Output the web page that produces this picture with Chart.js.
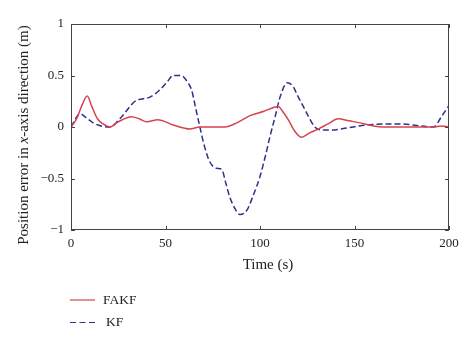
<!DOCTYPE html>
<html>
<head>
<meta charset="utf-8">
<script src="https://cdn.jsdelivr.net/npm/chart.js@4"></script>
<style>
    html, body { margin: 0; padding: 0; background: #fff; }
    #wrap { width: 474px; height: 346px; }
</style>
</head>
<body>
<div id="wrap"><canvas id="myChart" width="474" height="346"></canvas></div>
<script>
// time (s) and position error (m) for each filter
var timeFAKF = [0, 3, 6, 8.6, 11, 14, 17, 20.6, 25, 32, 36, 40, 46, 54, 63, 68, 81.5, 87.7, 94.7, 101.7, 109.7, 112, 115, 118, 122, 126, 130.8, 136, 141.4, 147, 153, 160, 165, 191.6, 196, 200];
var errFAKF  = [0, 0.08, 0.22, 0.30, 0.20, 0.08, 0.03, 0, 0.05, 0.10, 0.08, 0.05, 0.07, 0.02, -0.02, 0, 0, 0.04, 0.11, 0.15, 0.20, 0.15, 0.07, -0.03, -0.10, -0.06, -0.02, 0.03, 0.08, 0.06, 0.04, 0.01, 0, 0, 0.01, 0];

var timeKF = [0, 4.8, 8, 11.8, 16, 20.6, 26.8, 33.9, 41.8, 47, 51, 54, 57, 59.4, 61.5, 63.8, 66, 68.2, 70.5, 73.5, 77, 79.7, 82, 84, 87, 89.4, 93, 96.5, 100, 103, 105.3, 108, 110.6, 114.4, 117.6, 120, 122.9, 126, 129, 133, 137, 145.9, 156.4, 174, 191.7, 196, 200];
var errKF  = [0, 0.13, 0.09, 0.04, 0.01, 0, 0.10, 0.25, 0.29, 0.36, 0.44, 0.50, 0.50, 0.49, 0.44, 0.36, 0.18, 0, -0.18, -0.34, -0.40, -0.41, -0.55, -0.68, -0.80, -0.85, -0.81, -0.66, -0.48, -0.27, -0.09, 0.10, 0.29, 0.43, 0.39, 0.30, 0.20, 0.09, 0, -0.03, -0.03, -0.01, 0.02, 0.03, 0, 0.10, 0.21];

var xTicks = [0, 50, 100, 150, 200];
var yTicks = [-1, -0.5, 0, 0.5, 1];

var seriesNames = ['FAKF', 'KF'];
var redColor = '#d6434f';
var blueColor = '#2e318a';
var serif = '"Liberation Serif", "DejaVu Serif", serif';

function toPoints(xs, ys) {
    return xs.map(function(x, i) { return { x: x, y: ys[i] }; });
}

// box + inward tick marks, MATLAB style
const boxPlugin = {
    id: 'boxTicks',
    afterDatasetsDraw: function(chart) {
        const ctx = chart.ctx;
        const a = chart.chartArea;
        const xs = chart.scales.x, ys = chart.scales.y;
        ctx.save();
        ctx.strokeStyle = '#444';
        ctx.lineWidth = 1;
        ctx.strokeRect(a.left + 0.5, a.top + 0.5, a.right - a.left - 1, a.bottom - a.top - 1);
        ctx.beginPath();
        xTicks.forEach(function(v) {
            let px = Math.round(xs.getPixelForValue(v)) + 0.5;
            ctx.moveTo(px, a.bottom); ctx.lineTo(px, a.bottom - 4);
            ctx.moveTo(px, a.top); ctx.lineTo(px, a.top + 4);
        });
        yTicks.forEach(function(v) {
            let py = Math.round(ys.getPixelForValue(v)) + 0.5;
            ctx.moveTo(a.left, py); ctx.lineTo(a.left + 4, py);
            ctx.moveTo(a.right, py); ctx.lineTo(a.right - 4, py);
        });
        ctx.stroke();
        ctx.restore();
    },
    afterDraw: function(chart) {
        const ctx = chart.ctx;
        const a = chart.chartArea;
        ctx.save();
        ctx.fillStyle = '#222';
        ctx.textBaseline = 'middle';

        // y axis title with italic x
        const parts = [
            { t: 'Position error in ', f: '15px ' + serif },
            { t: 'x', f: 'italic 15px ' + serif },
            { t: '-axis direction (m)', f: '15px ' + serif }
        ];
        let total = 0;
        parts.forEach(function(p) { ctx.font = p.f; p.w = ctx.measureText(p.t).width; total += p.w; });
        ctx.translate(24, 135);
        ctx.rotate(-Math.PI / 2);
        let x0 = -total / 2;
        ctx.textAlign = 'left';
        parts.forEach(function(p) { ctx.font = p.f; ctx.fillText(p.t, x0, 0); x0 += p.w; });
        ctx.setTransform(1, 0, 0, 1, 0, 0);

        // x axis title
        ctx.font = '15px ' + serif;
        ctx.textAlign = 'center';
        ctx.fillText('Time (s)', 268, 265);

        // legend below the axes
        const styles = [
            { c: redColor, dash: [], tx: 103 },
            { c: blueColor, dash: [6, 3.5], tx: 106 }
        ];
        ctx.textAlign = 'left';
        ctx.font = '13.5px ' + serif;
        seriesNames.forEach(function(name, i) {
            let y = 300 + i * 22.5;
            ctx.strokeStyle = styles[i].c;
            ctx.lineWidth = 1.2;
            ctx.setLineDash(styles[i].dash);
            ctx.beginPath();
            ctx.moveTo(70, y); ctx.lineTo(95, y);
            ctx.stroke();
            ctx.setLineDash([]);
            ctx.fillStyle = '#222';
            ctx.fillText(name, styles[i].tx, y);
        });
        ctx.restore();
    }
};

function initChart() {
    const ctx = document.getElementById('myChart').getContext('2d');
    new Chart(ctx, {
        type: 'line',
        data: {
            datasets: [
                {
                    label: seriesNames[0],
                    data: toPoints(timeFAKF, errFAKF),
                    borderColor: redColor,
                    borderWidth: 1.5,
                    pointRadius: 0,
                    tension: 0.4,
                    cubicInterpolationMode: 'monotone',
                    fill: false
                },
                {
                    label: seriesNames[1],
                    data: toPoints(timeKF, errKF),
                    borderColor: blueColor,
                    borderWidth: 1.5,
                    borderDash: [6, 3],
                    pointRadius: 0,
                    tension: 0.4,
                    cubicInterpolationMode: 'monotone',
                    fill: false
                }
            ]
        },
        options: {
            responsive: false,
            animation: false,
            layout: { padding: { left: 0, right: 25, top: 24, bottom: 86 } },
            plugins: {
                legend: { display: false },
                tooltip: { enabled: false }
            },
            scales: {
                x: {
                    type: 'linear',
                    min: 0, max: 200,
                    afterFit: function(s) { s.height = 30; },
                    afterBuildTicks: function(s) { s.ticks = xTicks.map(function(v) { return { value: v }; }); },
                    grid: { display: false, drawTicks: false },
                    border: { display: false },
                    ticks: { padding: 6, color: '#222', font: { family: serif, size: 13 }, maxRotation: 0, autoSkip: false },
                    title: { display: false }
                },
                y: {
                    type: 'linear',
                    min: -1, max: 1,
                    afterFit: function(s) { s.width = 71; },
                    afterBuildTicks: function(s) { s.ticks = yTicks.map(function(v) { return { value: v }; }); },
                    grid: { display: false, drawTicks: false },
                    border: { display: false },
                    ticks: {
                        padding: 7, color: '#222', font: { family: serif, size: 13 }, autoSkip: false,
                        callback: function(v) { return v < 0 ? '\u2212' + Math.abs(v) : String(v); }
                    }
                }
            }
        },
        plugins: [boxPlugin]
    });
}
window.onload = initChart;
</script>
</body>
</html>
